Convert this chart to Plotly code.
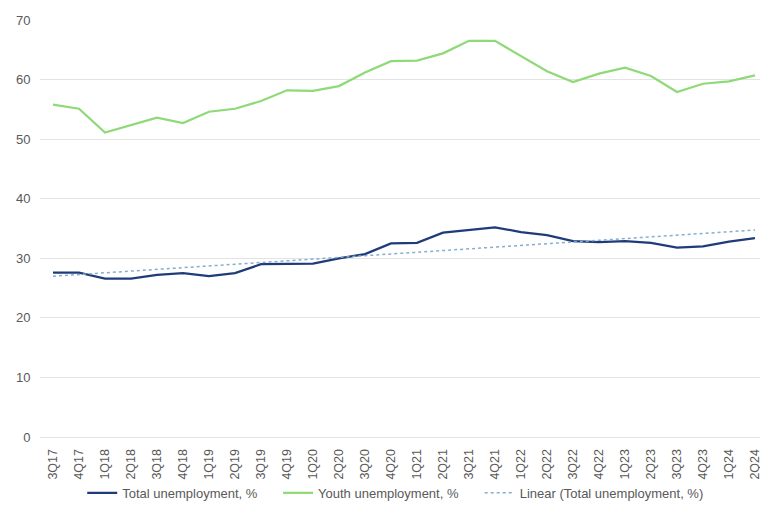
import numpy as np
import plotly.graph_objects as go

quarters = ["3Q17", "4Q17", "1Q18", "2Q18", "3Q18", "4Q18", "1Q19", "2Q19", "3Q19", "4Q19",
            "1Q20", "2Q20", "3Q20", "4Q20", "1Q21", "2Q21", "3Q21", "4Q21", "1Q22", "2Q22",
            "3Q22", "4Q22", "1Q23", "2Q23", "3Q23", "4Q23", "1Q24", "2Q24"]

total_unemployment = [27.6, 27.6, 26.6, 26.6, 27.2, 27.5, 27.0, 27.5, 29.0, 29.1,
                      29.1, 30.0, 30.7, 32.5, 32.6, 34.3, 34.8, 35.2, 34.4, 33.9,
                      32.9, 32.7, 32.9, 32.6, 31.8, 32.0, 32.8, 33.4]

youth_unemployment = [55.8, 55.1, 51.1, 52.4, 53.6, 52.7, 54.6, 55.1, 56.4, 58.2,
                      58.1, 58.9, 61.2, 63.1, 63.2, 64.4, 66.5, 66.5, 63.9, 61.4,
                      59.6, 61.0, 62.0, 60.6, 57.9, 59.3, 59.7, 60.7]

# Linear trendline of total unemployment (least squares, as in Excel)
idx = np.arange(1, len(total_unemployment) + 1)
slope, intercept = np.polyfit(idx, total_unemployment, 1)
trend = slope * idx + intercept

fig = go.Figure()
fig.add_trace(go.Scatter(x=quarters, y=total_unemployment, mode="lines",
                         name="Total unemployment, %", legend="legend",
                         line=dict(color="#1f3b7a", width=2.25)))
fig.add_trace(go.Scatter(x=quarters, y=youth_unemployment, mode="lines",
                         name="Youth unemployment, %", legend="legend2",
                         line=dict(color="#8fd978", width=2.25)))
fig.add_trace(go.Scatter(x=quarters, y=trend, mode="lines",
                         name="Linear (Total unemployment, %)", legend="legend3",
                         line=dict(color="#86aed0", width=1.5, dash="dot")))

leg_common = dict(orientation="h", xanchor="left", y=-0.134, yanchor="middle",
                  font=dict(size=13, color="#595959"), bgcolor="rgba(0,0,0,0)")

fig.update_layout(
    width=760, height=506,
    margin=dict(l=32, r=0, t=12, b=77, autoexpand=False),
    plot_bgcolor="white", paper_bgcolor="white",
    font=dict(family="Liberation Sans, Arial, sans-serif", size=12, color="#595959"),
    showlegend=True,
    legend=dict(x=0.058, **leg_common),
    legend2=dict(x=0.327, **leg_common),
    legend3=dict(x=0.604, **leg_common),
)
fig.update_xaxes(type="category", range=[-0.5, len(quarters) - 0.5], tickangle=-90,
                 showgrid=False, showline=False, automargin=False,
                 ticks="outside", ticklen=6, tickcolor="rgba(0,0,0,0)",
                 tickfont=dict(size=12.5, color="#595959"))
fig.update_yaxes(range=[0, 70], dtick=10, showgrid=True, gridcolor="#e3e3e3",
                 gridwidth=1, zeroline=True, zerolinecolor="#e3e3e3", zerolinewidth=1,
                 showline=False, automargin=False, ticks="outside", ticklen=6,
                 tickcolor="rgba(0,0,0,0)", tickfont=dict(size=13, color="#595959"))

fig.write_html("out.html")
